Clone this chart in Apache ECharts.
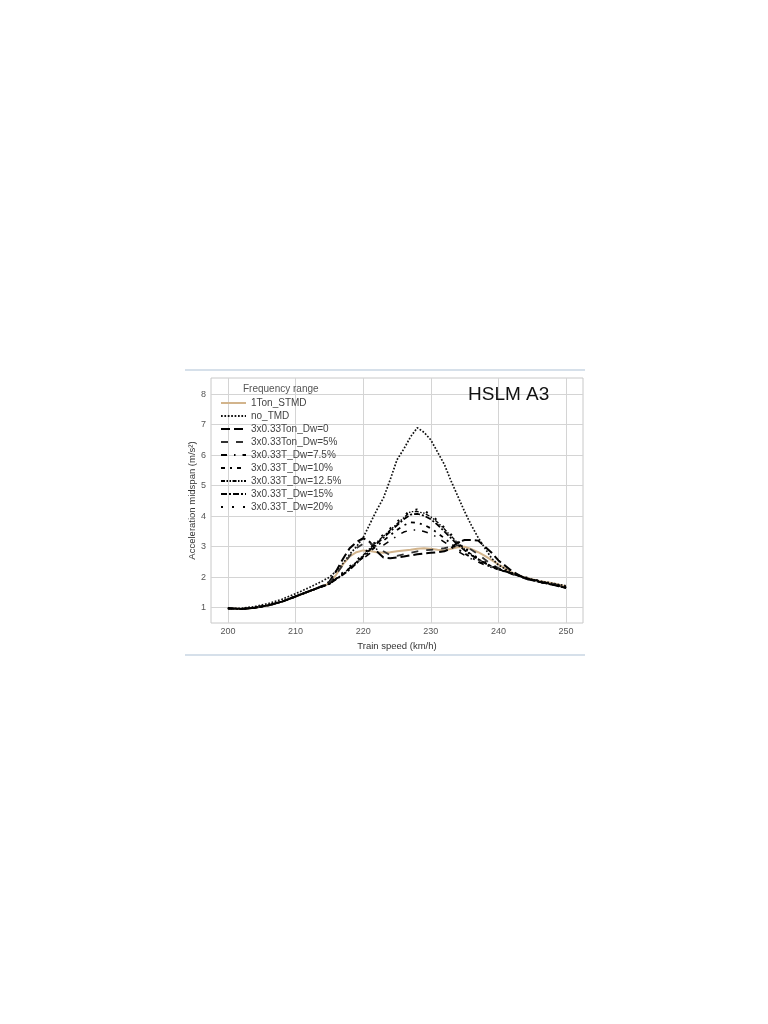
<!DOCTYPE html>
<html>
<head>
<meta charset="utf-8">
<script src="https://cdn.jsdelivr.net/npm/echarts@6/dist/echarts.min.js"></script>
<style>
html,body{margin:0;padding:0;background:#fff;}
#chart{width:768px;height:1024px;}
</style>
</head>
<body>
<div id="chart"></div>
<script>
// ---- data ----
var speeds = [200,202,204,206,208,210,212,214,215,216,217,218,219,220,221,222,223,224,225,226,227,228,229,230,231,232,233,234,235,236,237,238,239,240,242,244,246,248,250];
var xTicks = [200,210,220,230,240,250];
var yTicks = [1,2,3,4,5,6,7,8];
var seriesNames = ['1Ton_STMD','no_TMD','3x0.33Ton_Dw=0','3x0.33Ton_Dw=5%','3x0.33T_Dw=7.5%','3x0.33T_Dw=10%','3x0.33T_Dw=12.5%','3x0.33T_Dw=15%','3x0.33T_Dw=20%'];
var stmd1Ton = [0.98,0.96,1.0,1.08,1.2,1.37,1.54,1.71,1.8,2.08,2.42,2.68,2.82,2.88,2.86,2.82,2.8,2.82,2.85,2.88,2.9,2.93,2.95,2.93,2.9,2.88,2.93,2.98,3.0,2.92,2.82,2.7,2.56,2.42,2.15,1.98,1.88,1.8,1.7];
var noTMD = [0.98,0.98,1.04,1.14,1.28,1.46,1.66,1.88,2.0,2.2,2.45,2.75,3.0,3.3,3.75,4.2,4.6,5.2,5.85,6.2,6.6,6.9,6.75,6.5,6.1,5.7,5.15,4.65,4.15,3.7,3.3,2.95,2.62,2.4,2.15,1.98,1.88,1.8,1.72];
var dw0 = [0.98,0.96,1.0,1.08,1.2,1.37,1.54,1.72,1.85,2.2,2.6,2.95,3.15,3.28,3.15,2.85,2.65,2.62,2.65,2.68,2.72,2.75,2.78,2.8,2.82,2.85,2.95,3.15,3.22,3.22,3.2,3.0,2.8,2.55,2.2,1.95,1.85,1.78,1.68];
var dw5 = [0.98,0.96,1.0,1.08,1.2,1.37,1.54,1.71,1.82,2.1,2.4,2.7,2.95,3.1,3.12,3.0,2.85,2.72,2.7,2.75,2.8,2.85,2.88,2.9,2.92,2.95,3.0,3.05,3.02,2.9,2.75,2.58,2.42,2.3,2.1,1.95,1.85,1.78,1.68];
var dw7_5 = [0.98,0.96,1.0,1.08,1.2,1.37,1.54,1.7,1.78,1.95,2.12,2.3,2.48,2.62,2.78,2.92,3.05,3.2,3.35,3.48,3.55,3.55,3.5,3.42,3.3,3.15,3.0,2.85,2.72,2.6,2.5,2.4,2.32,2.25,2.12,1.97,1.85,1.75,1.65];
var dw10 = [0.98,0.96,1.0,1.08,1.2,1.37,1.54,1.7,1.78,1.95,2.12,2.3,2.48,2.65,2.85,3.02,3.2,3.38,3.55,3.7,3.8,3.78,3.72,3.6,3.45,3.28,3.1,2.92,2.78,2.64,2.52,2.42,2.33,2.25,2.12,1.97,1.85,1.75,1.65];
var dw12_5 = [0.98,0.96,1.0,1.08,1.2,1.37,1.54,1.7,1.78,1.95,2.1,2.3,2.5,2.72,2.95,3.15,3.35,3.55,3.75,3.95,4.15,4.15,4.1,3.98,3.8,3.58,3.35,3.12,2.92,2.75,2.6,2.48,2.36,2.28,2.13,1.98,1.86,1.76,1.66];
var dw15 = [0.98,0.96,1.0,1.08,1.2,1.37,1.54,1.7,1.78,1.93,2.08,2.25,2.45,2.68,2.9,3.1,3.3,3.5,3.7,3.9,4.05,4.08,4.02,3.9,3.72,3.5,3.28,3.06,2.88,2.72,2.58,2.46,2.35,2.26,2.12,1.97,1.85,1.75,1.65];
var dw20 = [0.98,0.96,1.0,1.08,1.2,1.37,1.54,1.7,1.8,1.98,2.15,2.35,2.55,2.75,2.98,3.2,3.4,3.6,3.82,4.0,4.2,4.22,4.18,4.05,3.85,3.62,3.4,3.18,2.97,2.78,2.62,2.5,2.38,2.3,2.14,2.0,1.88,1.78,1.68];
var allValues = [stmd1Ton, noTMD, dw0, dw5, dw7_5, dw10, dw12_5, dw15, dw20];

// ---- styles ----
var lineStyles = [
  {color:'#d2b48c', width:2, type:'solid'},
  {color:'#111', width:1.7, type:[1.7,1.7]},
  {color:'#000', width:2, type:[9,4]},
  {color:'#333', width:1.8, type:[7,8]},
  {color:'#000', width:1.5, type:[6,7,1.5,7]},
  {color:'#000', width:1.8, type:[4,5,2,5]},
  {color:'#000', width:1.3, type:[4,1.5,1.5,1.5,1.5,1.5]},
  {color:'#000', width:1.8, type:[6,2,2,2]},
  {color:'#000', width:2, type:[2,9]}
];

var series = seriesNames.map(function(name, k){
  return {
    name: name,
    type: 'line',
    symbol: 'none',
    showSymbol: false,
    smooth: false,
    z: k === 0 ? 1 : 2,
    lineStyle: lineStyles[k],
    itemStyle: {color: lineStyles[k].color, opacity: 0},
    data: speeds.map(function(s, i){ return [s, allValues[k][i]]; })
  };
});

var chart = echarts.init(document.getElementById('chart'));
chart.setOption({
  backgroundColor: '#fff',
  animation: false,
  title: [
    {text: 'HSLM A3', left: 468, top: 385, padding: 0,
     textStyle: {fontFamily: 'Liberation Sans', fontSize: 19, fontWeight: 'normal', color: '#111'}},
    {text: 'Frequency range', left: 243, top: 384, padding: 0,
     textStyle: {fontFamily: 'Liberation Sans', fontSize: 10, fontWeight: 'normal', color: '#555'}}
  ],
  legend: {
    orient: 'vertical',
    left: 220, top: 398, padding: 0,
    itemWidth: 25, itemHeight: 10, itemGap: 3,
    itemStyle: {opacity: 0},
    textStyle: {fontFamily: 'Liberation Sans', fontSize: 10, color: '#444', lineHeight: 10},
    data: seriesNames
  },
  graphic: [
    {type:'line', shape:{x1:185,y1:370,x2:585,y2:370}, style:{stroke:'#c9d6e3', lineWidth:1.5}},
    {type:'line', shape:{x1:185,y1:655,x2:585,y2:655}, style:{stroke:'#c9d6e3', lineWidth:1.5}}
  ],
  grid: {left: 211, right: 185, top: 378, bottom: 401, show: true, borderColor: '#c8c8c8', borderWidth: 1, backgroundColor: 'transparent'},
  xAxis: {
    type: 'value', min: 197.5, max: 252.5,
    name: 'Train speed (km/h)', nameLocation: 'middle', nameGap: 18,
    nameTextStyle: {fontFamily: 'Liberation Sans', fontSize: 9.5, color: '#333'},
    axisLine: {show: false},
    axisTick: {show: false, customValues: xTicks},
    axisLabel: {customValues: xTicks, margin: 4, fontFamily: 'Liberation Sans', fontSize: 9, color: '#555'},
    splitLine: {show: true, lineStyle: {color: '#d4d4d4', width: 1}}
  },
  yAxis: {
    type: 'value', min: 0.5, max: 8.53,
    name: 'Acceleration midspan (m/s²)', nameLocation: 'middle', nameGap: 14, nameRotate: 90,
    nameTextStyle: {fontFamily: 'Liberation Sans', fontSize: 9.5, color: '#333'},
    axisLine: {show: false},
    axisTick: {show: false, customValues: yTicks},
    axisLabel: {customValues: yTicks, margin: 5, fontFamily: 'Liberation Sans', fontSize: 9, color: '#555'},
    splitLine: {show: true, lineStyle: {color: '#d4d4d4', width: 1}}
  },
  series: series
});
</script>
</body>
</html>
